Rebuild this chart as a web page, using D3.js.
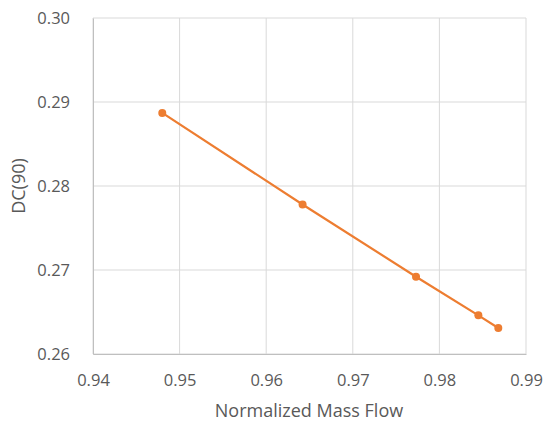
<!DOCTYPE html>
<html lang="en">
<head>
  <meta charset="utf-8">
  <title>DC(90) vs Normalized Mass Flow</title>
  <script type="text/javascript" src="https://d3js.org/d3.v7.min.js"></script>
  <style type="text/css">
    body { margin: 0; background: #fff; }
    text { font-family: "Open Sans", "Noto Sans", sans-serif; fill: #595959; }
  </style>
</head>
<body>
  <div id="chart"></div>
  <script type="text/javascript">

    // data
    const massFlow = [0.9480, 0.9642, 0.9773, 0.9845, 0.9868]
    const dc90 = [0.2887, 0.2778, 0.2692, 0.2646, 0.2631]
    const xTicks = [0.94, 0.95, 0.96, 0.97, 0.98, 0.99]
    const yTicks = [0.26, 0.27, 0.28, 0.29, 0.30]

    const width = 550, height = 431
    const margin = { top: 18, right: 24, bottom: 77, left: 93 }

    const svg = d3.select('#chart').append('svg')
      .attr('width', width)
      .attr('height', height)

    const x = d3.scaleLinear().domain([0.94, 0.99]).range([margin.left, width - margin.right])
    const y = d3.scaleLinear().domain([0.26, 0.30]).range([height - margin.bottom, margin.top])

    // gridlines
    svg.append('g')
      .selectAll('line.vgrid')
      .data(xTicks)
      .enter().append('line')
      .attr('x1', d => x(d)).attr('x2', d => x(d))
      .attr('y1', y(0.30)).attr('y2', y(0.26))
      .attr('stroke', '#d9d9d9').attr('stroke-width', 1)

    svg.append('g')
      .selectAll('line.hgrid')
      .data(yTicks)
      .enter().append('line')
      .attr('x1', x(0.94)).attr('x2', x(0.99))
      .attr('y1', d => y(d)).attr('y2', d => y(d))
      .attr('stroke', '#d9d9d9').attr('stroke-width', 1)

    // axes, labels only
    const xAxis = svg.append('g')
      .attr('transform', `translate(0,${y(0.26)})`)
      .call(d3.axisBottom(x).tickValues(xTicks).tickSize(0).tickPadding(20).tickFormat(d3.format('.2f')))
    xAxis.select('.domain').attr('stroke', '#bfbfbf')
    xAxis.selectAll('text').style('font-size', '16.5px')

    const yAxis = svg.append('g')
      .attr('transform', `translate(${x(0.94)},0)`)
      .call(d3.axisLeft(y).tickValues(yTicks).tickSize(0).tickPadding(23).tickFormat(d3.format('.2f')))
    yAxis.select('.domain').attr('stroke', '#bfbfbf')
    yAxis.selectAll('text').style('font-size', '16.5px')

    // axis titles
    svg.append('text')
      .attr('x', 309)
      .attr('y', 417)
      .attr('text-anchor', 'middle')
      .style('font-size', '18px')
      .text('Normalized Mass Flow')

    svg.append('text')
      .attr('transform', `translate(25,${(y(0.26) + y(0.30)) / 2}) rotate(-90)`)
      .attr('text-anchor', 'middle')
      .style('font-size', '18px')
      .text('DC(90)')

    // series
    const points = massFlow.map((d, i) => ({ x: d, y: dc90[i] }))

    svg.append('path')
      .datum(points)
      .attr('fill', 'none')
      .attr('stroke', '#ED7D31')
      .attr('stroke-width', 2.2)
      .attr('d', d3.line().x(d => x(d.x)).y(d => y(d.y)))

    svg.selectAll('circle')
      .data(points)
      .enter().append('circle')
      .attr('cx', d => x(d.x))
      .attr('cy', d => y(d.y))
      .attr('r', 4)
      .attr('fill', '#ED7D31')

  </script>
</body>
</html>
